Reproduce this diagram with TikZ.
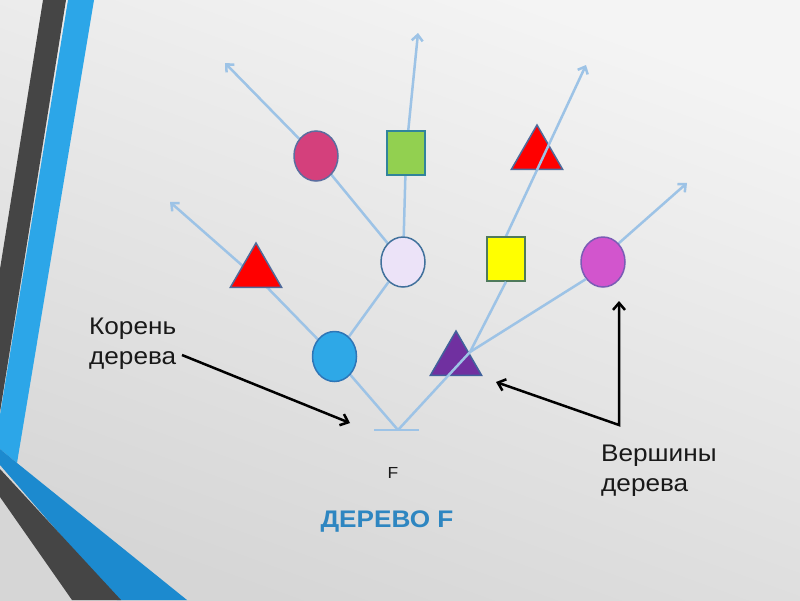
\documentclass[tikz,border=0pt]{standalone}
\usepackage{fontspec}
\setmainfont[FakeStretch=1.09]{Liberation Sans}
\usetikzlibrary{shapes.geometric,arrows.meta,calc}
\pgfdeclarelayer{bg}
\pgfdeclarelayer{lines}
\pgfsetlayers{bg,lines,main}
\definecolor{lineblue}{HTML}{9DC3E6}
\definecolor{bgtop}{HTML}{F4F4F4}
\definecolor{bgbot}{HTML}{D6D6D6}
\definecolor{darkstripe}{HTML}{454545}
\definecolor{bluestripe}{HTML}{2CA6E8}
\definecolor{bluestripeb}{HTML}{1C8ACF}
\definecolor{pinkc}{HTML}{D4407C}
\definecolor{pinkd}{HTML}{5B6D9F}
\definecolor{greenc}{HTML}{92D050}
\definecolor{greend}{HTML}{31849B}
\definecolor{redc}{HTML}{FF0000}
\definecolor{redd}{HTML}{4F6A9A}
\definecolor{lavc}{HTML}{ECE3F8}
\definecolor{lavd}{HTML}{41719C}
\definecolor{yelc}{HTML}{FFFF00}
\definecolor{yeld}{HTML}{4F7A5C}
\definecolor{orcc}{HTML}{D255CD}
\definecolor{orcd}{HTML}{7A5CB5}
\definecolor{bluc}{HTML}{2EA8E7}
\definecolor{blud}{HTML}{2E75B6}
\definecolor{purc}{HTML}{7030A0}
\definecolor{purd}{HTML}{41619C}
\definecolor{titlec}{HTML}{2E86C1}
\begin{document}
\begin{tikzpicture}[x=1pt,y=-1pt,
  ell/.style={ellipse,minimum width=44pt,minimum height=50pt,inner sep=0pt,line width=1.5pt},
  sq/.style={rectangle,minimum width=38pt,minimum height=44pt,inner sep=0pt,line width=1.5pt},
  tri/.style={regular polygon,regular polygon sides=3,minimum size=59pt,inner sep=0pt,line width=1.5pt},
  conn/.style={draw=lineblue,line width=2.5pt},
  arr/.style={conn,-{Straight Barb[length=6pt,width=11pt]}},
  blk/.style={draw=black,line width=2.5pt,line join=miter},
  lbl/.style={font=\fontsize{24}{30}\selectfont,align=left,inner sep=0pt,text=black!90}
]
\useasboundingbox (0,0) rectangle (800,600);
\begin{pgfonlayer}{bg}
\shade[top color=bgtop,bottom color=bgbot,shading angle=-20] (0,0) rectangle (800,600);
\fill[darkstripe] (43,0) -- (66,0) -- (0,412) -- (0,269) -- cycle;
\fill[bluestripe] (68,0) -- (94,0) -- (17,463) -- (0,449) -- (0,415) -- cycle;
\fill[bluestripeb] (0,449) -- (17,463) -- (187,600) -- (117,600) -- (0,465) -- cycle;
\fill[darkstripe] (0,469) -- (121,600) -- (72,600) -- (0,497) -- cycle;
\end{pgfonlayer}

% shapes
\node[ell,fill=pinkc,draw=pinkd] (pink) at (316,156) {};
\node[sq,fill=greenc,draw=greend] (green) at (406,153) {};
\node[tri,fill=redc,draw=redd] (redtop) at (537,154.5) {};
\node[tri,fill=redc,draw=redd] (redleft) at (256,272.5) {};
\node[ell,fill=lavc,draw=lavd] (lav) at (403,262) {};
\node[sq,fill=yelc,draw=yeld] (yel) at (506,259) {};
\node[ell,fill=orcc,draw=orcd] (orch) at (603,262) {};
\node[ell,fill=bluc,draw=blud] (blu) at (334.5,356.5) {};
\node[tri,fill=purc,draw=purd] (pur) at (456,360.5) {};

% coordinates
\coordinate (root) at (398,430);
\coordinate (tip1) at (225,63);
\coordinate (tip2) at (418,33);
\coordinate (tip3) at (586,65);
\coordinate (tip4) at (170,202);
\coordinate (tip5) at (687,183);
\coordinate (pt) at (470,352);
\coordinate (lb) at ($(redleft.corner 2)!0.72!(redleft.corner 3)$);

\begin{pgfonlayer}{lines}
\draw[conn] (root) -- (blu);
\draw[conn] (blu) -- (lav);
\draw[conn] (blu) -- (lb);
\draw[arr] (lb) -- (tip4);
\draw[conn] (lav) -- (pink);
\draw[arr] (pink) -- (tip1);
\draw[conn] (lav) -- (green);
\draw[arr] (green) -- (tip2);
\draw[conn] (yel.north) -- (redtop.south);
\draw[arr] (orch.50) -- (tip5);
\end{pgfonlayer}
\draw[arr] (redtop.south) -- (tip3);
\draw[conn] (root) -- (pt);
\draw[conn] (pt) -- (yel.south);
\draw[conn] (pt) -- (orch.225);
\draw[conn] ($(root)+(-24,0)$) -- ($(root)+(21,0)$);

% labels
\node[lbl,anchor=north west] (kor) at (89,318) {Корень\\дерева};
\node[lbl,anchor=north west] (ver) at (601,445) {Вершины\\дерева};
\node[font=\fontsize{16}{19}\selectfont,inner sep=0pt,anchor=base,text=black!90] (f) at (393,478) {F};
\node[font=\fontsize{24}{29}\selectfont\bfseries,inner sep=0pt,anchor=base,text=titlec] (title) at (387,527) {ДЕРЕВО F};

% black arrows
\coordinate (k1) at (182,355);
\coordinate (k2) at (350,423);
\draw[blk,-{Straight Barb[length=7pt,width=12pt]}] (k1) -- (k2);
\coordinate (vc) at (619,425);
\coordinate (va) at (619,301);
\coordinate (vb) at (496,382);
\draw[blk,{Straight Barb[length=7pt,width=12pt]}-{Straight Barb[length=7pt,width=12pt]}] (va) -- (vc) -- (vb);
\end{tikzpicture}
\end{document}
